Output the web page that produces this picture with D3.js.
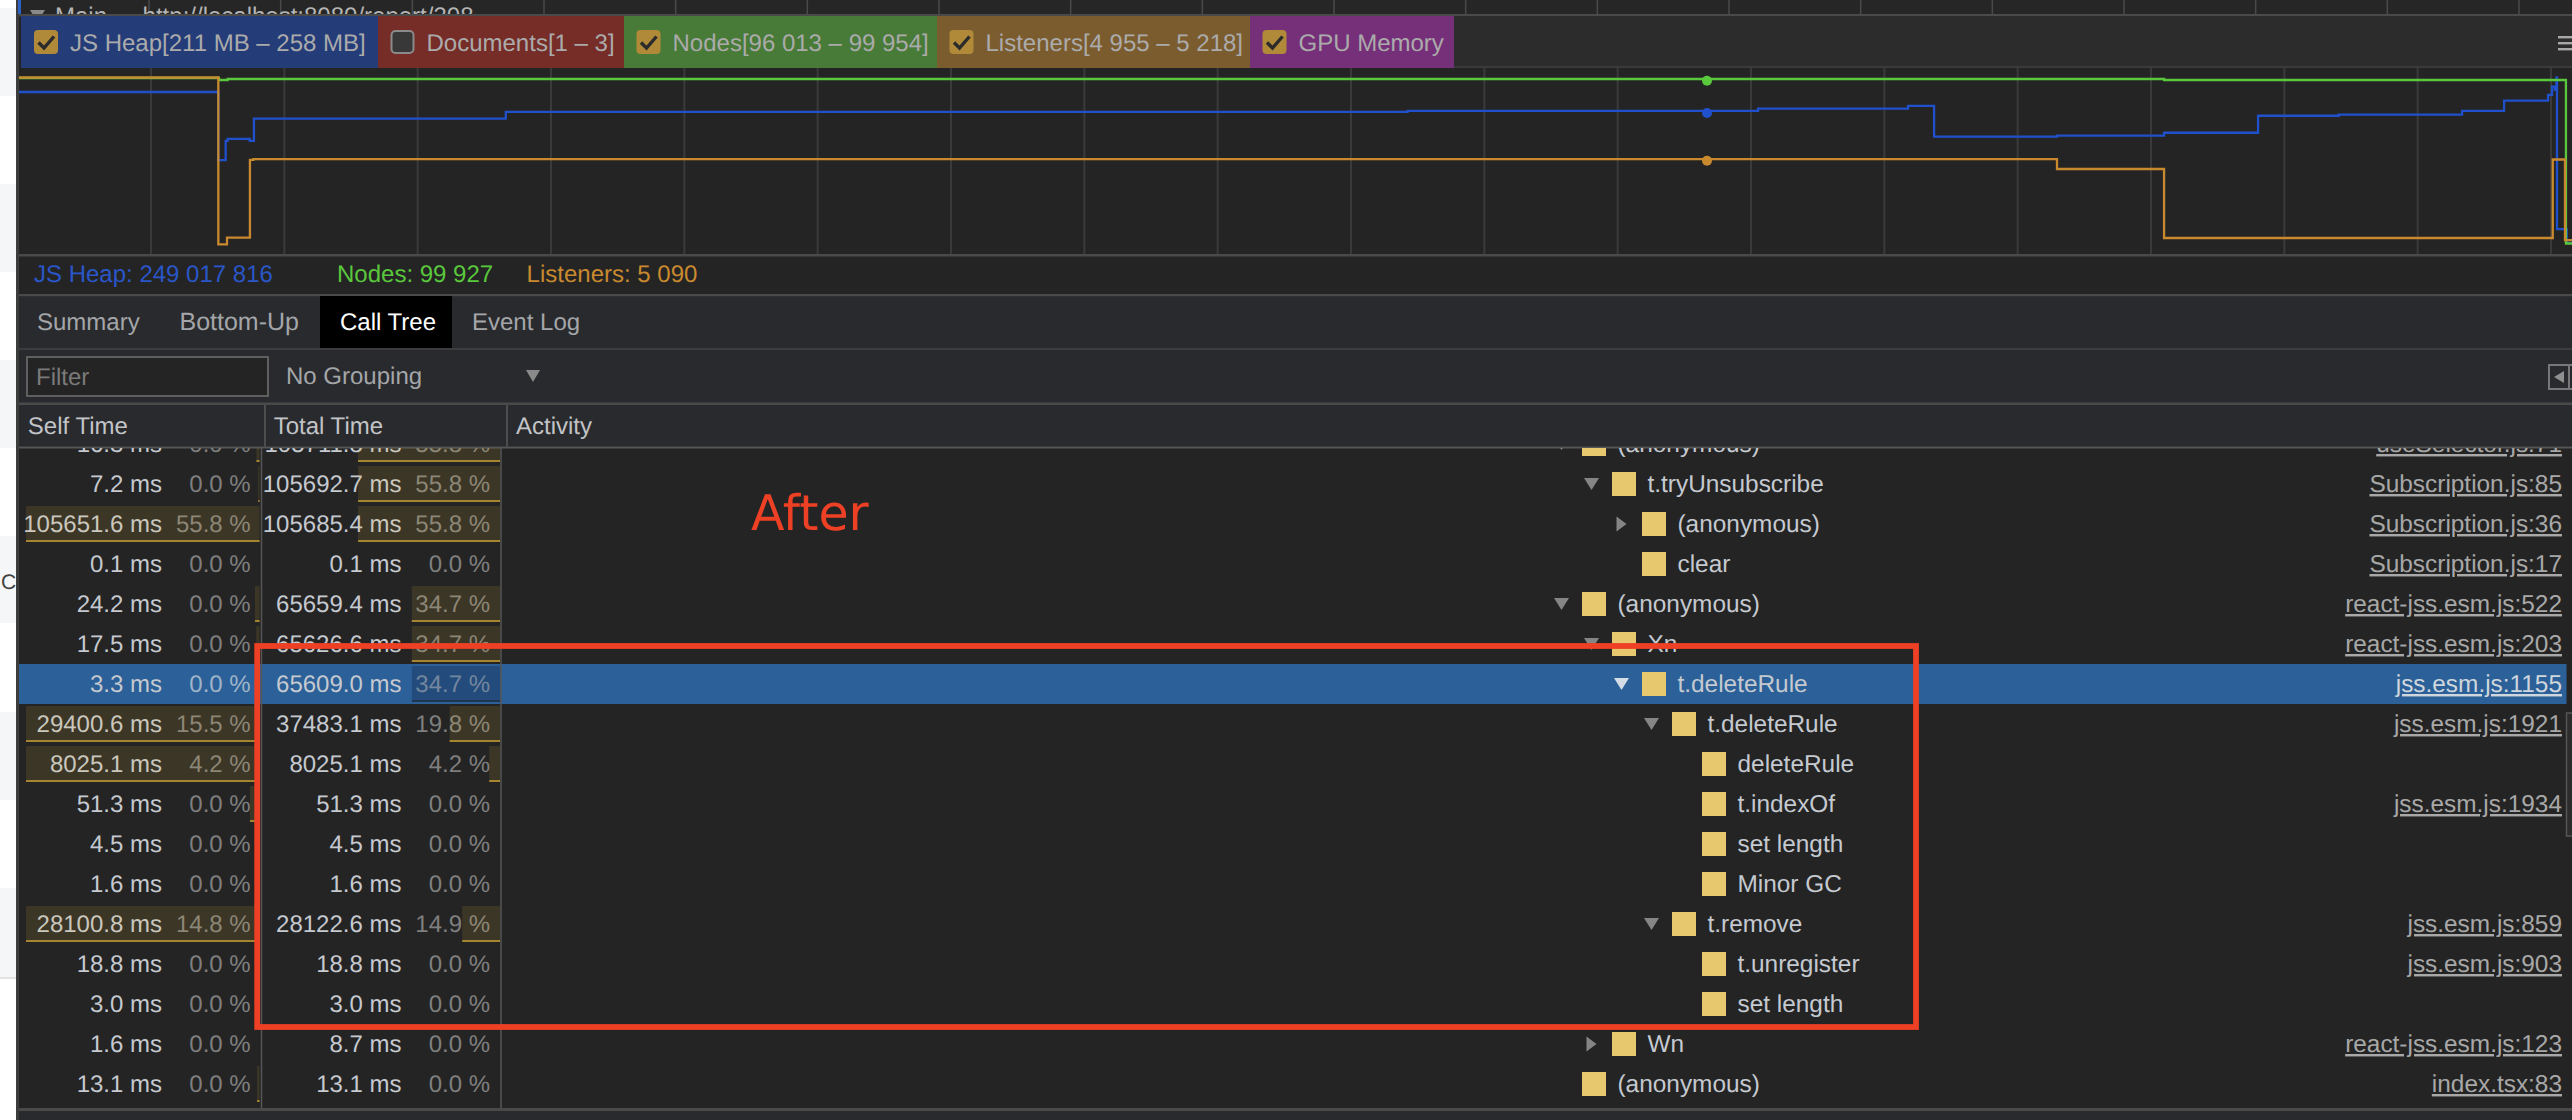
<!DOCTYPE html>
<html><head><meta charset="utf-8">
<script src="https://cdn.jsdelivr.net/npm/d3@7"></script>
<style>html,body{margin:0;padding:0;background:#fff;overflow:hidden}svg{display:block}text{font-family:"Liberation Sans",Arial,sans-serif;font-size:24px;text-rendering:geometricPrecision}</style>
</head><body><svg id="c" width="2572" height="1120"></svg>
<script>
// ---------- data ----------
const legendLabels = ["JS Heap[211 MB – 258 MB]","Documents[1 – 3]","Nodes[96 013 – 99 954]","Listeners[4 955 – 5 218]","GPU Memory"];
const legendChecked = [true,false,true,true,true];
const gridSeconds = d3.range(10,200,10);
const heapSeries = [[0,253.9],[15.05,234.7],[15.6,240.1],[15.75,240.7],[17.4,240.1],[17.72,246.4],[36.61,248.3],[104.24,248.6],[130.53,249.2],[141.78,250.0],[143.73,241.3],[152.95,241.6],[160.98,242.4],[168.03,247.2],[174.07,247.5],[183.33,248.6],[186.48,251.5],[189.78,253.1],[190.08,255.4],[190.29,254.5],[190.41,258.0],[190.45,215.2],[191.18,211.3],[193,211.3]];
const nodeSeries = [[0,99942],[15.1,99895],[15.75,99918],[160.98,99895],[191.12,96025],[193,96025]];
const listenerSeries = [[0,5218],[15.05,4954.5],[15.7,4965],[17.42,5088],[17.68,5089],[152.95,5073.5],[160.98,4964.5],[190.13,5088.5],[191.05,4961],[193,4961]];
const cursorSecond = 126.7;
const cursorHeap = 248.0, cursorNodes = 99878, cursorListeners = 5086.6;
const statusLabels = ["JS Heap: 249 017 816","Nodes: 99 927","Listeners: 5 090"];
const tabLabels = ["Summary","Bottom-Up","Call Tree","Event Log"];
const columnLabels = ["Self Time","Total Time","Activity"];
const selfMs = ["16.3","7.2","105651.6","0.1","24.2","17.5","3.3","29400.6","8025.1","51.3","4.5","1.6","28100.8","18.8","3.0","1.6","13.1"];
const selfPct = ["0.0","0.0","55.8","0.0","0.0","0.0","0.0","15.5","4.2","0.0","0.0","0.0","14.8","0.0","0.0","0.0","0.0"];
const totalMs = ["105711.8","105692.7","105685.4","0.1","65659.4","65626.6","65609.0","37483.1","8025.1","51.3","4.5","1.6","28122.6","18.8","3.0","8.7","13.1"];
const totalPct = ["55.8","55.8","55.8","0.0","34.7","34.7","34.7","19.8","4.2","0.0","0.0","0.0","14.9","0.0","0.0","0.0","0.0"];
const treeNames = ["(anonymous)","t.tryUnsubscribe","(anonymous)","clear","(anonymous)","Xn","t.deleteRule","t.deleteRule","deleteRule","t.indexOf","set length","Minor GC","t.remove","t.unregister","set length","Wn","(anonymous)"];
const treeDepth = [0,1,2,2,0,1,2,3,4,4,4,4,3,4,4,1,0];
const treeArrow = ["down","down","right","","down","down","down","down","","","","","down","","","right",""];
const treeLinks = ["useSelector.js:71","Subscription.js:85","Subscription.js:36","Subscription.js:17","react-jss.esm.js:522","react-jss.esm.js:203","jss.esm.js:1155","jss.esm.js:1921","","jss.esm.js:1934","","","jss.esm.js:859","jss.esm.js:903","","react-jss.esm.js:123","index.tsx:83"];
const selectedRow = 6;

// ---------- styles ----------
const C = {panel:"#242424",bar:"#292a2d",line:"#4a4a4a",grid:"#3a3a3a",blue:"#2050cc",green:"#5ac83c",orange:"#c98a2f",
  red:"#ee4024",sel:"#2b6098",txt:"#c5c9d0",dim:"#7f7f7f",ui:"#a4a6a9"};
const legendBands = [[21,378,"#243c78"],[378,624,"#762c27"],[624,937,"#487a38"],[937,1250,"#7b5c2f"],[1250,1454,"#763079"]];
const svg = d3.select("#c");
const R=(x,y,w,h,f,p=svg)=>p.append("rect").attr("x",x).attr("y",y).attr("width",w).attr("height",h).attr("fill",f);
const T=(x,y,s,f,a="start",p=svg)=>p.append("text").attr("x",x).attr("y",y).attr("fill",f).attr("text-anchor",a).text(s);
const defs=svg.append("defs");
const clipR=(id,x,y,w,h)=>defs.append("clipPath").attr("id",id).append("rect").attr("x",x).attr("y",y).attr("width",w).attr("height",h);
clipR("cTop",19,0,2553,14);clipR("cChart",19,68,2553,186);clipR("cBody",19,448,2553,660);

// ---------- page behind ----------
R(0,0,2572,1120,"#fff");
[[8,96],[184,272],[360,448],[536,623],[712,800],[888,977]].forEach(b=>R(0,b[0],16,b[1]-b[0],"#f5f6f8"));
R(0,977,16,2,"#e2e2e2");
T(1,589,"C","#444").style("font-size","21px");
R(16,0,2556,1120,C.panel);
R(16,0,3,1120,"#3c3c3c");

// ---------- top strip ----------
const xTop=d3.scaleLinear().domain([10,190]).range([149,2519]);
const topG=svg.append("g").attr("clip-path","url(#cTop)");
R(19,0,2553,14,"#262626",topG);
topG.selectAll("line").data(gridSeconds).join("line").attr("x1",d=>xTop(d)).attr("x2",d=>xTop(d)).attr("y1",0).attr("y2",14).attr("stroke",C.line).attr("stroke-width",1.5);
topG.append("path").attr("d","M30 10H45L37.5 22Z").attr("fill","#8a8a8a");
T(55,24,"Main","#b4b4b4","start",topG);
T(142.6,24,"http://localhost:8080/report/308","#b4b4b4","start",topG);
R(18,0,3,14,"#2b62c4");
R(19,14,2553,2.5,C.line);

// ---------- legend ----------
R(21,16,2551,52,"#2c2c2c");
R(1454,66,1118,2.5,"#3a3a3a");
legendBands.forEach((b,i)=>{
  R(b[0],16,b[1]-b[0],52,b[2]);
  const bx=b[0]+(i==0?13:12.5);
  const box=svg.append("rect").attr("x",bx).attr("y",30).attr("width",24).attr("height",24).attr("rx",4);
  if(legendChecked[i]){box.attr("fill","#b08a38");
    svg.append("path").attr("d",`M${bx+4.5} 42.5L${bx+10} 48L${bx+20} 36.5`).attr("fill","none").attr("stroke","#2b2b2b").attr("stroke-width",3.4);
  } else box.attr("fill","#383838").attr("stroke","#8a8a8a").attr("stroke-width",2).attr("x",bx+1).attr("y",31).attr("width",22).attr("height",22);
  T(bx+36,50.5,legendLabels[i],"#ababab");
});
[37,43,49].forEach(y=>R(2558,y-1,14,2.4,"#a8a8a8"));

// ---------- counter chart ----------
const xs=d3.scaleLinear().domain([0,193]).range([17.67,2591]);
const yHeap=d3.scaleLinear().domain([211,258]).range([244,77.5]);
const yNodes=d3.scaleLinear().domain([96013,99954]).range([244,77.5]);
const yList=d3.scaleLinear().domain([4955,5218]).range([244,77.5]);
R(19,68,2553,186,C.panel);
const chart=svg.append("g").attr("clip-path","url(#cChart)");
chart.selectAll("line.g").data(gridSeconds).join("line").attr("class","g").attr("x1",d=>xs(d)).attr("x2",d=>xs(d)).attr("y1",68).attr("y2",254).attr("stroke",C.grid).attr("stroke-width",2);
[[heapSeries,yHeap,C.blue],[nodeSeries,yNodes,C.green],[listenerSeries,yList,C.orange]].forEach(s=>{
  const l=d3.line().x(d=>xs(d[0])).y(d=>s[1](d[1])).curve(d3.curveStepAfter);
  chart.append("path").attr("d",l(s[0])).attr("fill","none").attr("stroke",s[2]).attr("stroke-width",2.3);
});
[[cursorNodes,yNodes,C.green],[cursorHeap,yHeap,C.blue],[cursorListeners,yList,C.orange]].forEach(m=>{
  chart.append("circle").attr("cx",xs(cursorSecond)).attr("cy",m[1](m[0])).attr("r",5).attr("fill",m[2]);
});
R(19,254,2553,2.5,C.line);

// ---------- status ----------
T(34,281.5,statusLabels[0],"#2a56c8");T(337,281.5,statusLabels[1],C.green);T(526.6,281.5,statusLabels[2],C.orange);
R(19,294,2553,2.5,C.line);

// ---------- tabs ----------
R(19,296.5,2553,51.5,C.bar);
R(320,296,132,52,"#000");
[[37,0],[179.5,1],[340,2],[472,3]].forEach(d=>T(d[0],330,tabLabels[d[1]],d[1]==2?"#fff":C.ui).style("font-size",d[1]==1?"25px":null));
R(19,348,2553,2.5,"#3c3c3c");

// ---------- filter bar ----------
R(19,350,2553,53,C.bar);
svg.append("rect").attr("x",27).attr("y",357).attr("width",241).attr("height",39).attr("fill",C.panel).attr("stroke","#5f5f5f").attr("stroke-width",2);
T(36,385,"Filter","#7a7a7a");
T(286,384,"No Grouping",C.ui);
svg.append("path").attr("d","M526 370H540L533 382Z").attr("fill","#8a8a8a");
svg.append("rect").attr("x",2549).attr("y",365).attr("width",30).attr("height",24).attr("fill","none").attr("stroke","#777").attr("stroke-width",2);
R(2568,365,2,24,"#777");
svg.append("path").attr("d","M2554 377L2564 371V383Z").attr("fill","#8f8f8f");
R(19,402.5,2553,2.5,C.line);

// ---------- header ----------
R(19,405,2553,41.5,C.bar);
[[27.8,0],[273.7,1],[516,2]].forEach(d=>T(d[0],434,columnLabels[d[1]],"#c2c4c7"));
[265,507].forEach(v=>R(v-.75,405,1.5,41.5,"#5a5a5a"));
R(19,446.5,2553,2,"#555");

// ---------- table ----------
const rowTop=d3.scaleLinear().domain([0,1]).range([424,464]);
const body=svg.append("g").attr("clip-path","url(#cBody)");
R(19,rowTop(selectedRow),2547.5,40,C.sel,body);
const rowIdx=d3.range(selfMs.length);
const selfW=d3.scaleLinear().domain([0,1260]).range([0,233.5]).clamp(true);
const totalW=d3.scaleLinear().domain([0,105711.8]).range([0,142]);
const iconX=d3.scaleLinear().domain([0,1]).range([1582,1612]);
const selfRows=body.selectAll("g.r").data(rowIdx).join("g").attr("class","r");
selfRows.each(function(i){
  const g=d3.select(this),y=rowTop(i),b=y+28;
  const sel=i==selectedRow, pctCol=sel?"#9fb4c9":C.dim;
  T(162,b,selfMs[i]+" ms",C.txt,"end",g);
  T(250.7,b,selfPct[i]+" %",pctCol,"end",g);
  T(401.5,b,totalMs[i]+" ms",C.txt,"end",g);
  T(490,b,totalPct[i]+" %",pctCol,"end",g);
  const sw=selfW(+selfMs[i]), tw=totalW(+totalMs[i]);
  const fill=sel?"rgba(15,30,60,.3)":"rgba(235,190,60,.12)", ul=sel?"#1e3450":"#a5852e";
  [[259.5,sw],[500,tw]].forEach(c=>{
    if(c[1]<.5)return;
    R(c[0]-c[1],y+2,c[1],36,fill,g);
    R(c[0]-c[1],y+36,c[1],2,ul,g);
  });
  // activity
  const ix=iconX(treeDepth[i]);
  R(ix,y+8,24,24,"#e8c86e",g);
  T(ix+35.5,b,treeNames[i],C.txt,"start",g).style("font-size","24.4px");
  if(treeArrow[i]=="down"){
    g.append("path").attr("d",`M${ix-28} ${y+14}h15l-7.5 12Z`).attr("fill",sel?"#d4dde6":"#858585");
  } else if(treeArrow[i]=="right"){
    g.append("path").attr("d",`M${ix-25.5} ${y+12.5}l10 7.5l-10 7.5Z`).attr("fill","#858585");
  }
  if(treeLinks[i]) T(2562,b,treeLinks[i],sel?"#cfd6dd":"#a8a8a8","end",g).style("text-decoration","underline").style("font-size","24.4px");
});
[261.5,501].forEach(v=>R(v-.75,448,1.5,660,"#555"));
svg.append("rect").attr("x",2566.5).attr("y",713).attr("width",8).attr("height",123).attr("fill","#2c2c2c").attr("stroke","#555").attr("stroke-width",1.5);

// ---------- bottom ----------
R(19,1108,2553,3,C.line);
R(19,1111,2553,9,C.bar);

// ---------- annotation ----------
svg.append("rect").attr("x",257.2).attr("y",646).attr("width",1658.8).attr("height",381).attr("fill","none").attr("stroke",C.red).attr("stroke-width",5.8);
svg.append("text").attr("x",751).attr("y",530).attr("fill",C.red).style("font-family","'DejaVu Sans'").style("font-size","49px").text("After");
</script></body></html>
